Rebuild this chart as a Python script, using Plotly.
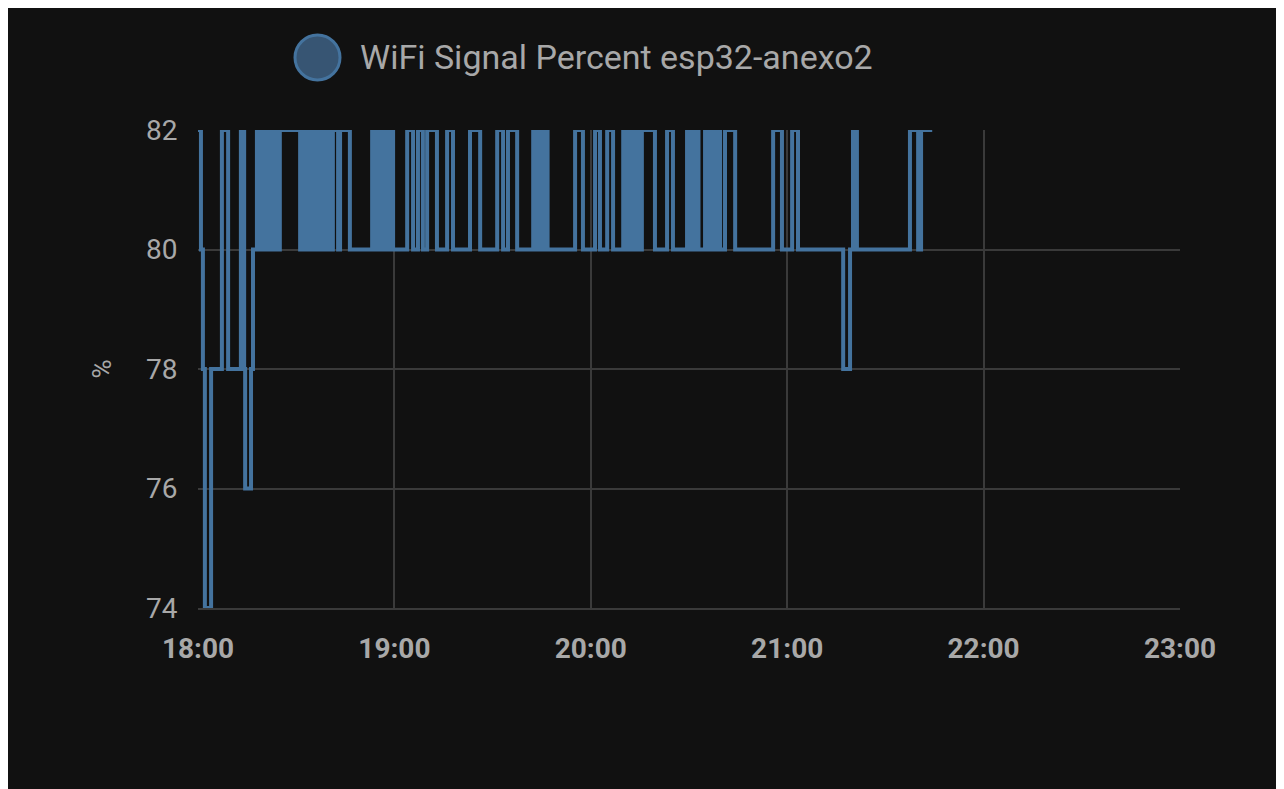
import plotly.graph_objects as go
import pandas as pd

# minutes after 18:00 at which the value changes, and the new value
change_min = [0, 0.9, 1.5, 2.1, 4.0, 7.3, 9.2, 13.1, 14.1, 14.4, 16.2, 16.8,
              18.0, 18.5, 19.0, 19.5, 20.0, 20.5, 21.0, 21.5, 22.0, 22.5, 23.0, 23.5, 24.0, 24.5, 25.0,
              31.2, 31.7, 32.2, 32.7, 33.2, 33.7, 34.2,
              35.1, 35.6, 36.1, 36.6, 37.1, 37.6, 38.0, 39.1, 39.4, 40.5,
              41.2, 42.8, 43.4, 46.4,
              53.2, 53.7, 54.2, 54.7, 55.2, 55.7, 56.2, 56.7, 57.2, 57.7, 58.2, 58.7, 59.2, 59.6,
              63.9, 65.7, 67.2, 68.7, 70.0, 73.0, 76.1, 77.9, 83.1, 86.2, 91.4, 93.2, 94.7, 97.5,
              102.4, 102.9, 103.4, 103.9, 104.4, 104.9, 105.4, 105.9, 106.4, 106.8,
              115.2, 117.6, 121.3, 122.8, 125.0, 126.8,
              129.9, 130.4, 131.0, 131.6, 132.2, 132.8, 133.4, 134.0, 134.6, 135.2, 135.6,
              139.6, 143.3, 145.1,
              149.4, 149.9, 150.4, 150.9, 151.4, 151.9, 152.4, 152.9,
              154.9, 155.4, 155.9, 156.4, 156.9, 157.4, 157.9, 158.4, 158.9, 159.5,
              161.0, 164.1, 175.7, 178.4, 181.5, 183.3, 197.1, 199.2, 200.1, 201.3,
              217.5, 220.0, 220.9, 224.3]
values = [82, 80, 78, 74, 78, 82, 78, 82, 78, 76, 78, 80,
          82, 80, 82, 80, 82, 80, 82, 80, 82, 80, 82, 80, 82, 80, 82,
          80, 82, 80, 82, 80, 82, 80,
          82, 80, 82, 80, 82, 80, 82, 80, 82, 80,
          82, 80, 82, 80,
          82, 80, 82, 80, 82, 80, 82, 80, 82, 80, 82, 80, 82, 80,
          82, 80, 82, 80, 82, 80, 82, 80, 82, 80, 82, 80, 82, 80,
          82, 80, 82, 80, 82, 80, 82, 80, 82, 80,
          82, 80, 82, 80, 82, 80,
          82, 80, 82, 80, 82, 80, 82, 80, 82, 80, 82,
          80, 82, 80,
          82, 80, 82, 80, 82, 80, 82, 80,
          82, 80, 82, 80, 82, 80, 82, 80, 82, 80,
          82, 80, 82, 80, 82, 80, 78, 80, 82, 80,
          82, 80, 82, 82]
series_name = 'WiFi Signal Percent esp32-anexo2'

start = pd.Timestamp('2024-01-01 18:00')
times = [start + pd.Timedelta(minutes=m) for m in change_min]
tick_vals = [start + pd.Timedelta(hours=h) for h in range(6)]
tick_text = ['18:00', '19:00', '20:00', '21:00', '22:00', '23:00']

color = 'rgb(68,115,158)'
fig = go.Figure()
fig.add_trace(go.Scatter(x=times, y=values, mode='lines', line=dict(color=color, width=4, shape='hv'),
                         showlegend=False))

# legend drawn by hand: big circle + text
fig.add_shape(type='circle', xref='paper', yref='paper', x0=-0.1, x1=-0.054, y0=1.205, y1=1.30,
              xsizemode='pixel', ysizemode='pixel', xanchor=0, yanchor=1.0,
              line=dict(color=color, width=3), fillcolor='rgba(68,115,158,0.55)')
fig.update_shapes(xsizemode='scaled', ysizemode='scaled')
fig.layout.shapes = []
fig.add_shape(type='circle', xref='paper', yref='paper',
              x0=(287 - 190) / 982, x1=(332 - 190) / 982,
              y0=(600 - 72) / 478, y1=(600 - 27) / 478,
              line=dict(color=color, width=3), fillcolor='rgba(55,85,115,1)')
fig.add_annotation(text=series_name, xref='paper', yref='paper', x=(350 - 190) / 982,
                   y=(600 - 49) / 478, xanchor='left', yanchor='middle', showarrow=False,
                   font=dict(size=34, color='#a8a8a8', family='Roboto'))

fig.update_layout(
    width=1276, height=781,
    paper_bgcolor='#111111', plot_bgcolor='#111111',
    font=dict(family='Roboto', color='#9e9e9e'),
    margin=dict(l=190, r=104, t=122, b=181),
    showlegend=False,
    xaxis=dict(range=[start, start + pd.Timedelta(hours=5)], tickvals=tick_vals, ticktext=tick_text,
               showgrid=True, gridcolor='#3a3a3a', gridwidth=2, zeroline=False,
               tickfont=dict(size=28, color='#a8a8a8', family='Roboto', weight='bold'),
               showline=True, linecolor='#3a3a3a', linewidth=2, ticks='outside', ticklen=14, tickcolor='#111111'),
    yaxis=dict(range=[74, 82], tickvals=[74, 76, 78, 80, 82], showgrid=True, gridcolor='#3a3a3a', gridwidth=2,
               zeroline=False, tickfont=dict(size=28, color='#a8a8a8'), ticks='outside', ticklen=14,
               tickcolor='#111111',
               title=dict(text='%', font=dict(size=26, color='#a8a8a8'), standoff=26)),
)
fig.write_html("out.html")
